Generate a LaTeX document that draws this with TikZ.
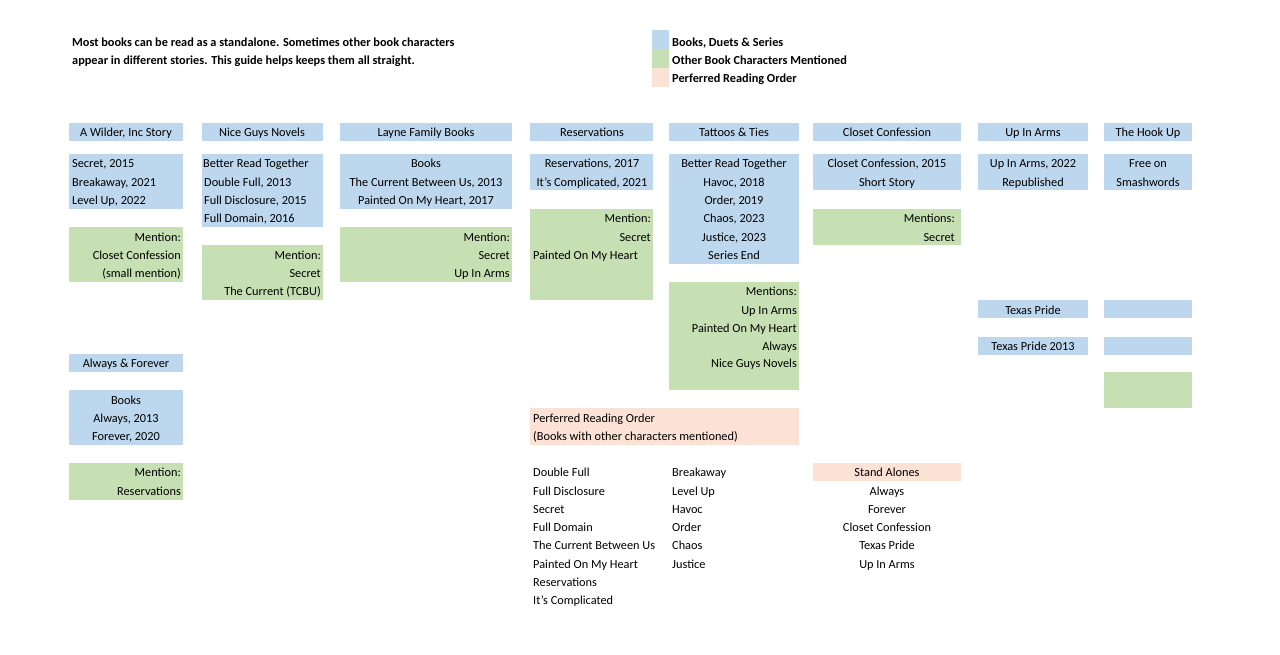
\documentclass[tikz,border=0pt]{standalone}
\usepackage{fontspec}
\setmainfont{Carlito}
\definecolor{cb}{RGB}{189,215,238}
\definecolor{cg}{RGB}{198,224,180}
\definecolor{cp}{RGB}{251,226,213}
\begin{document}
\begin{tikzpicture}[x=1pt,y=-1pt,every node/.style={inner sep=0pt,font=\fontsize{12.3}{14}\selectfont}]
\useasboundingbox[fill=white] (0,0) rectangle (1280,655);
\newcommand\bx[5]{\fill[#5] (#1,#3) rectangle (#2,#4);}
\newcommand\tl[3]{\node[anchor=base west] at (#1,#2+4.3) {#3};}
\newcommand\tr[3]{\node[anchor=base east] at (#1,#2+4.3) {#3};}
\newcommand\tc[3]{\node[anchor=base] at (#1,#2+4.3) {#3};}
% intro
\tl{72}{42}{\bfseries Most books can be read as a standalone. Sometimes other book characters}
\tl{72}{60}{\bfseries appear in different stories. This guide helps keeps them all straight.}
\bx{652}{669}{30}{50}{cb}\bx{652}{669}{50}{68}{cg}\bx{652}{669}{68}{87}{cp}
\tl{672}{42}{\bfseries Books, Duets \& Series}
\tl{672}{60}{\bfseries Other Book Characters Mentioned}
\tl{672}{78}{\bfseries Perferred Reading Order}
% headers
\bx{69}{183}{123}{141}{cb}\tc{126}{132}{A Wilder, Inc Story}
\bx{202}{323}{123}{141}{cb}\tc{262}{132}{Nice Guys Novels}
\bx{340}{512}{123}{141}{cb}\tc{426}{132}{Layne Family Books}
\bx{530}{653}{123}{141}{cb}\tc{592}{132}{Reservations}
\bx{669}{799}{123}{141}{cb}\tc{734}{132}{Tattoos \& Ties}
\bx{813}{961}{123}{141}{cb}\tc{887}{132}{Closet Confession}
\bx{978}{1088}{123}{141}{cb}\tc{1033}{132}{Up In Arms}
\bx{1104}{1192}{123}{141}{cb}\tc{1148}{132}{The Hook Up}
% A
\bx{69}{183}{154}{209}{cb}
\tl{72}{163}{Secret, 2015}\tl{72}{182}{Breakaway, 2021}\tl{72}{200}{Level Up, 2022}
\bx{69}{183}{227}{282}{cg}
\tr{181}{237}{Mention:}\tr{181}{255}{Closet Confession}\tr{181}{273}{(small mention)}
\bx{69}{183}{354}{372}{cb}\tc{126}{363}{Always \& Forever}
\bx{69}{183}{390}{445}{cb}
\tc{126}{400}{Books}\tc{126}{418}{Always, 2013}\tc{126}{436}{Forever, 2020}
\bx{69}{183}{463}{500}{cg}
\tr{181}{472}{Mention:}\tr{181}{491}{Reservations}
% B
\bx{202}{323}{154}{227}{cb}
\tl{203}{163}{Better Read Together}\tl{204}{182}{Double Full, 2013}\tl{204}{200}{Full Disclosure, 2015}\tl{204}{218}{Full Domain, 2016}
\bx{202}{323}{245}{300}{cg}
\tr{321}{255}{Mention:}\tr{321}{273}{Secret}\tr{321}{291}{The Current (TCBU)}
% C
\bx{340}{512}{154}{209}{cb}
\tc{426}{163}{Books}\tc{426}{182}{The Current Between Us, 2013}\tc{426}{200}{Painted On My Heart, 2017}
\bx{340}{512}{227}{282}{cg}
\tr{510}{237}{Mention:}\tr{510}{255}{Secret}\tr{510}{273}{Up In Arms}
% D
\bx{530}{653}{154}{190}{cb}
\tc{592}{163}{Reservations, 2017}\tc{592}{182}{It's Complicated, 2021}
\bx{530}{653}{209}{300}{cg}
\tr{651}{218}{Mention:}\tr{651}{237}{Secret}\tl{533}{255}{Painted On My Heart}
% E
\bx{669}{799}{154}{264}{cb}
\tc{734}{163}{Better Read Together}\tc{734}{182}{Havoc, 2018}\tc{734}{200}{Order, 2019}\tc{734}{218}{Chaos, 2023}\tc{734}{237}{Justice, 2023}\tc{734}{255}{Series End}
\bx{669}{799}{282}{390}{cg}
\tr{797}{291}{Mentions:}\tr{797}{310}{Up In Arms}\tr{797}{328}{Painted On My Heart}\tr{797}{346}{Always}\tr{797}{363}{Nice Guys Novels}
% F
\bx{813}{961}{154}{190}{cb}
\tc{887}{163}{Closet Confession, 2015}\tc{887}{182}{Short Story}
\bx{813}{961}{209}{245}{cg}
\tr{955}{218}{Mentions:}\tr{955}{237}{Secret}
% G
\bx{978}{1088}{154}{190}{cb}
\tc{1033}{163}{Up In Arms, 2022}\tc{1033}{182}{Republished}
\bx{978}{1088}{300}{318}{cb}\tc{1033}{310}{Texas Pride}
\bx{978}{1088}{337}{355}{cb}\tc{1033}{346}{Texas Pride 2013}
% H
\bx{1104}{1192}{154}{190}{cb}
\tc{1148}{163}{Free on}\tc{1148}{182}{Smashwords}
\bx{1104}{1192}{300}{318}{cb}
\bx{1104}{1192}{337}{355}{cb}
\bx{1104}{1192}{372}{408}{cg}
% reading order
\bx{530}{799}{408}{445}{cp}
\tl{533}{418}{Perferred Reading Order}\tl{533}{436}{(Books with other characters mentioned)}
\tl{533}{472}{Double Full}\tl{533}{491}{Full Disclosure}\tl{533}{509}{Secret}\tl{533}{527}{Full Domain}
\tl{533}{545}{The Current Between Us}\tl{533}{564}{Painted On My Heart}\tl{533}{582}{Reservations}\tl{533}{600}{It's Complicated}
\tl{672}{472}{Breakaway}\tl{672}{491}{Level Up}\tl{672}{509}{Havoc}\tl{672}{527}{Order}\tl{672}{545}{Chaos}\tl{672}{564}{Justice}
\bx{813}{961}{463}{481}{cp}\tc{887}{472}{Stand Alones}
\tc{887}{491}{Always}\tc{887}{509}{Forever}\tc{887}{527}{Closet Confession}\tc{887}{545}{Texas Pride}\tc{887}{564}{Up In Arms}
\end{tikzpicture}
\end{document}
